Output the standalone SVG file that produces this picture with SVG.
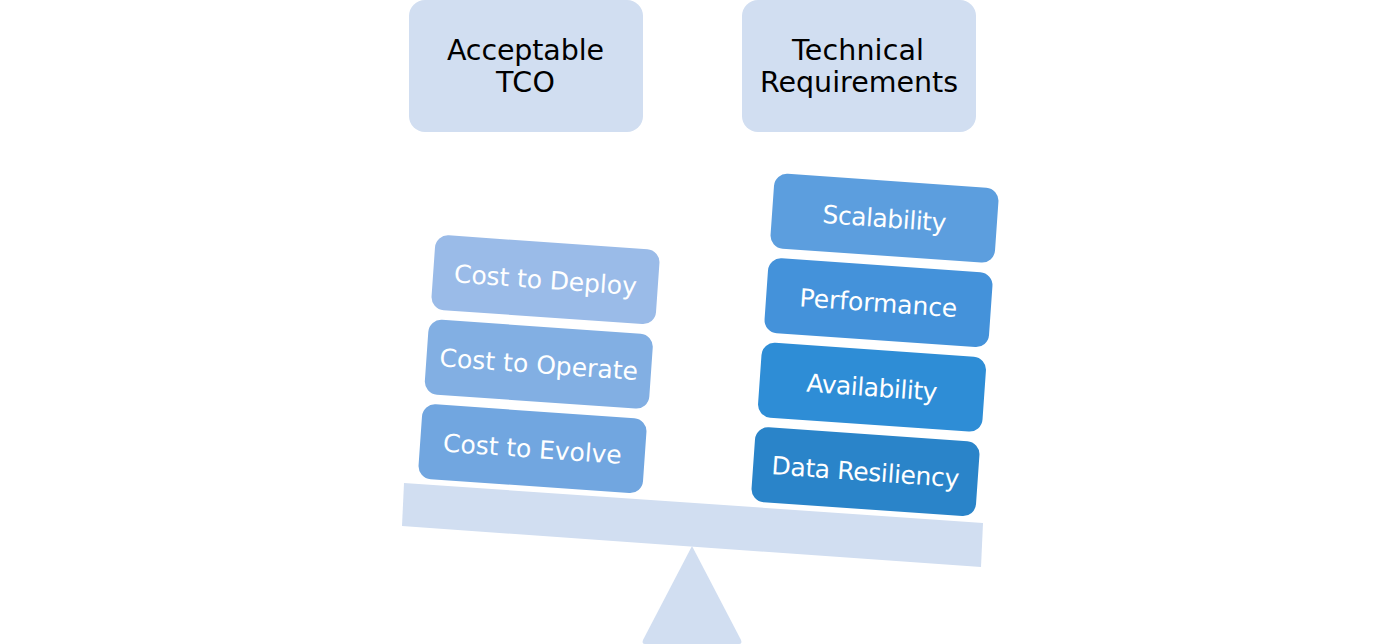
<svg xmlns="http://www.w3.org/2000/svg" width="1385" height="644" viewBox="0 0 1385 644">
<style>
text{font-family:"DejaVu Sans",Verdana,sans-serif;text-anchor:middle}
.h{font-size:28.500px;fill:#000}
.s{font-size:25px;fill:#fff}
.hb{fill:#d1def1}
</style>
<rect width="1385" height="644" fill="#fff"/>
<g id="header-tco"><rect class="hb" x="409" y="0" width="234" height="132" rx="16"/><text class="h" x="525.500" y="60" textLength="157">Acceptable</text><text class="h" x="525.500" y="92" textLength="59">TCO</text></g>
<g id="header-tech"><rect class="hb" x="742" y="0" width="234" height="132" rx="16"/><text class="h" x="858" y="60" textLength="132">Technical</text><text class="h" x="859" y="92" textLength="198">Requirements</text></g>
<g id="beam"><polygon class="hb" points="404,483 983,523 981,567 402,526"/></g>
<g id="fulcrum"><path class="hb" d="M692,546 L741,640 Q742.500,644 739,644 L645,644 Q641.500,644 643,640 Z"/></g>
<g id="cost-deploy" transform="translate(545.500,279.700) rotate(4)"><rect x="-112.500" y="-37.500" width="225" height="75" rx="13" fill="#9abbe8"/><text class="s" x="0" y="9" textLength="183">Cost to Deploy</text></g>
<g id="cost-operate" transform="translate(538.800,364.200) rotate(4)"><rect x="-112.500" y="-37.500" width="225" height="75" rx="13" fill="#82afe3"/><text class="s" x="0" y="9" textLength="199">Cost to Operate</text></g>
<g id="cost-evolve" transform="translate(532.500,448.700) rotate(4)"><rect x="-112.500" y="-37.500" width="225" height="75" rx="13" fill="#71a6e0"/><text class="s" x="0" y="9" textLength="179">Cost to Evolve</text></g>
<g id="scalability" transform="translate(884.500,218.200) rotate(4)"><rect x="-112.500" y="-37.500" width="225" height="75" rx="13" fill="#5c9ede"/><text class="s" x="0" y="9" textLength="124">Scalability</text></g>
<g id="performance" transform="translate(878.500,302.700) rotate(4)"><rect x="-112.500" y="-37.500" width="225" height="75" rx="13" fill="#4492da"/><text class="s" x="0" y="9" textLength="158">Performance</text></g>
<g id="availability" transform="translate(872,387.200) rotate(4)"><rect x="-112.500" y="-37.500" width="225" height="75" rx="13" fill="#2e8dd6"/><text class="s" x="0" y="9" textLength="131">Availability</text></g>
<g id="data-resiliency" transform="translate(865.500,471.700) rotate(4)"><rect x="-112.500" y="-37.500" width="225" height="75" rx="13" fill="#2a84c9"/><text class="s" x="0" y="9" textLength="188">Data Resiliency</text></g>
<g id="connectors"></g>
</svg>
